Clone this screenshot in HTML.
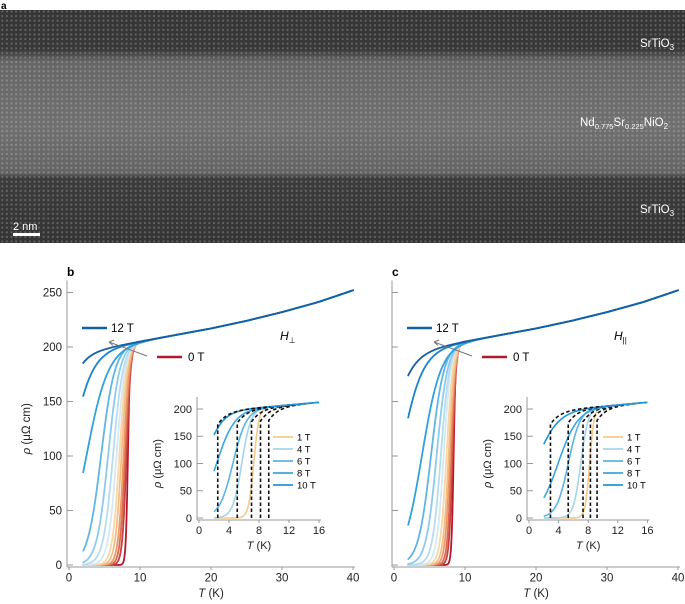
<!DOCTYPE html>
<html><head><meta charset="utf-8"><style>
html,body{margin:0;padding:0;background:#fff;width:685px;height:604px;overflow:hidden}
svg{display:block;font-family:"Liberation Sans",Arial,sans-serif}
</style></head><body>
<svg id="fig" width="685" height="604" viewBox="0 0 685 604">
<defs>
<pattern id="atoms" width="4.6" height="4.6" patternUnits="userSpaceOnUse">
<circle cx="2.3" cy="2.3" r="1.1" fill="#fff" fill-opacity="0.22"/>
</pattern>
<linearGradient id="layers" x1="0" y1="0" x2="0" y2="1">
<stop offset="0" stop-color="#353535"/><stop offset="0.17" stop-color="#383838"/>
<stop offset="0.22" stop-color="#666"/><stop offset="0.5" stop-color="#707070"/>
<stop offset="0.7" stop-color="#646464"/><stop offset="0.72" stop-color="#3c3c3c"/>
<stop offset="1" stop-color="#343434"/>
</linearGradient>
</defs>
<g>
<text x="1" y="9" font-size="10" font-weight="bold">a</text>
<rect x="0" y="10" width="685" height="233" fill="url(#layers)"/>
<rect x="0" y="10" width="685" height="233" fill="url(#atoms)"/>
<text x="640" y="47" font-size="11.5" fill="#fff">SrTiO<tspan font-size="8" dy="3">3</tspan></text>
<text x="580" y="126" font-size="11.5" fill="#fff">Nd<tspan font-size="7.5" dy="3">0.775</tspan><tspan dy="-3">Sr</tspan><tspan font-size="7.5" dy="3">0.225</tspan><tspan dy="-3">NiO</tspan><tspan font-size="8" dy="3">2</tspan></text>
<text x="640" y="213" font-size="11.5" fill="#fff">SrTiO<tspan font-size="8" dy="3">3</tspan></text>
<text x="13" y="230" font-size="11" fill="#fff">2 nm</text>
<rect x="13" y="233" width="27" height="3" fill="#fff"/>
</g>
<g id="plots"></g>
</svg>
<script>
// ---- data ----
const normalT = [2, 5, 10, 15, 20, 25, 30, 35, 40];
const normalRho = [196, 199, 205, 211, 217, 224, 232, 241, 252];
const mainFields = [0,1,2,3,4,5,6,7,8,9,10,11,12];
const mainColors = ["#b2182b","#c8413f","#dc6a4f","#ec9868","#f5bd86","#f6d7a6","#d6e8f2","#b5dcef","#8ccbec","#5fb6e6","#34a0dc","#1a84c8","#1460a8"];
const mainTmidB = [8.3,8.1,7.9,7.7,7.4,7.1,6.7,6.2,5.5,4.5,2.4,0,-2];
const mainWidthB = [0.15,0.3,0.35,0.4,0.45,0.5,0.6,0.7,0.8,0.95,1.5,1.5,1.4];
const mainTmidC = [8.4,8.25,8.1,7.9,7.7,7.4,7.0,6.6,6.0,5.2,3.9,0.8,-1.3];
const mainWidthC = [0.15,0.25,0.3,0.35,0.4,0.45,0.5,0.6,0.75,0.9,1.3,1.5,1.6];
const insetFields = ["1 T","4 T","6 T","8 T","10 T"];
const insetColors = ["#f5c98a","#a6d4ec","#5ab4e5","#3ba5e0","#1e96db"];
const insetTmidB = [7.3,5.7,4.5,2.3,0.5];
const insetWidthB = [0.35,0.6,0.9,1.2,1.2];
const insetTcB = [9.3,8.2,7.0,5.1,2.5];
const insetTmidC = [8.2,7.0,5.3,3.9,0.8];
const insetWidthC = [0.3,0.5,0.8,1.3,1.5];
const insetTcC = [9.2,8.3,7.3,5.3,2.9];
const mainYTicks = [0,50,100,150,200,250];
const mainXTicks = [0,10,20,30,40];
const insetYTicks = [0,50,100,150,200];
const insetXTicks = [0,4,8,12,16];

const NS = "http://www.w3.org/2000/svg";
const root = document.getElementById("plots");
function el(tag, attrs, parent, txt){
  const e = document.createElementNS(NS, tag);
  for (const k in attrs) e.setAttribute(k, attrs[k]);
  if (txt !== undefined) e.textContent = txt;
  (parent || root).appendChild(e);
  return e;
}
function rhoN(T){
  for (let i=0;i<normalT.length-1;i++){
    if (T<=normalT[i+1]){const f=(T-normalT[i])/(normalT[i+1]-normalT[i]);return normalRho[i]+f*(normalRho[i+1]-normalRho[i]);}
  }
  return normalRho[normalRho.length-1];
}
function rho(T,tm,w){ return rhoN(T)/(1+Math.exp(-(T-tm)/w)); }

function axes(g, sx, sy, x0, x1, y0, y1, xt, yt, showY, fs, ylabX, prefix){
  el("line",{x1:sx(x0)-2,y1:sy(y0)+2,x2:sx(x0)-2,y2:sy(y1)-12,stroke:"#999","stroke-width":1},g);
  el("line",{x1:sx(x0)-2,y1:sy(y0)+2,x2:sx(x1)+2,y2:sy(y0)+2,stroke:"#999","stroke-width":1},g);
  xt.forEach(v=>{
    el("line",{x1:sx(v),y1:sy(y0)+2,x2:sx(v),y2:sy(y0)+5,stroke:"#999"},g);
    const t=el("text",{x:sx(v),y:sy(y0)+5+fs,"font-size":fs,"text-anchor":"middle",fill:"#222"},g,String(v));
    
    
  });
  yt.forEach(v=>{
    el("line",{x1:sx(x0)-2,y1:sy(v),x2:sx(x0)+4,y2:sy(v),stroke:"#999"},g);
    if (showY){
      const t=el("text",{x:sx(x0)-7,y:sy(v)+fs*0.36,"font-size":fs,"text-anchor":"end",fill:"#222"},g,String(v));
      
      
    }
  });
  const xl=el("text",{x:(sx(x0)+sx(x1))/2,y:sy(y0)+5+fs*2.35,"font-size":fs,"text-anchor":"middle",fill:"#222"},g);
  xl.innerHTML='<tspan font-style="italic">T</tspan> (K)';
  
  
  if (showY){
    const cy=(sy(y0)+sy(y1))/2;
    const yl=el("text",{x:ylabX,y:cy,"font-size":fs,"text-anchor":"middle",fill:"#222",transform:`rotate(-90 ${ylabX} ${cy})`},g);
    yl.innerHTML='<tspan font-style="italic">ρ</tspan> (μΩ cm)';
    
    
  }
}
function curvePath(sx,sy,tm,w,t0,t1){
  let d="";
  for (let T=t0;T<=t1+1e-9;T+=0.05){ d+=(d?"L":"M")+sx(T).toFixed(2)+","+sy(rho(T,tm,w)).toFixed(2); }
  return d;
}

function panel(cfg){
  const g=el("g",{});
  
  
  const sx=T=>cfg.mx0+T*cfg.mxs, sy=r=>cfg.my0-r*cfg.mys;
  const lab=el("text",{x:cfg.mx0-2,y:276,"font-size":12,"font-weight":"bold"},g,cfg.name);
  
  
  axes(g,sx,sy,0,40,0,250,mainXTicks,mainYTicks,cfg.showY,11.5,30,'main-'+cfg.name+'-');
  mainFields.forEach((f,i)=>{
    const p=el("path",{d:curvePath(sx,sy,cfg.tmid[i],cfg.width[i],2,40),fill:"none",stroke:mainColors[i],"stroke-width":1.8,"stroke-linecap":"round"},g);
    
    
  });
  const lx=cfg.mx0+13;
  el("line",{x1:lx,y1:328,x2:lx+25,y2:328,stroke:"#1460a8","stroke-width":2.5},g);
  const t12=el("text",{x:lx+29,y:332,"font-size":11.5},g,"12 T");
  
  
  el("line",{x1:lx+cfg.zeroDx,y1:357,x2:lx+cfg.zeroDx+25,y2:357,stroke:"#b2182b","stroke-width":2.5},g);
  const t0=el("text",{x:lx+cfg.zeroDx+31,y:361,"font-size":11.5},g,"0 T");
  
  
  const ax=el("path",{d:`M${lx+cfg.zeroDx-10},356 L${lx+27},342 M${lx+27},342 l5,-2 M${lx+27},342 l4,3.5`,stroke:"#777","stroke-width":1,fill:"none"},g);
  
  
  const h=el("text",{x:cfg.hx,y:340,"font-size":12,"font-style":"italic"},g);
  h.innerHTML='H<tspan font-size="8" font-style="normal" dy="3">'+cfg.hsub+'</tspan>';
  
  

  const ig=el("g",{},g);
  
  
  const ix=T=>cfg.ix0+T*cfg.ixs, iy=r=>518-r*0.545;
  axes(ig,ix,iy,0,16,0,200,insetXTicks,insetYTicks,true,11,cfg.ix0-38,'inset-'+cfg.name+'-');
  insetFields.forEach((f,i)=>{
    const p=el("path",{d:curvePath(ix,iy,cfg.itmid[i],cfg.iwidth[i],2,16),fill:"none",stroke:insetColors[i],"stroke-width":1.6},ig);
    
    
    const tc=cfg.itc[i];
    let d=`M${ix(tc).toFixed(2)},${iy(0).toFixed(2)}L${ix(tc).toFixed(2)},${iy(rhoN(tc)-25).toFixed(2)}`;
    for (let T=tc;T<=Math.min(tc+7,15);T+=0.1) d+=`L${ix(T).toFixed(2)},${iy(rhoN(T)-25*Math.exp(-(T-tc)/1.3)).toFixed(2)}`;
    const fp=el("path",{d:d,fill:"none",stroke:"#111","stroke-width":1.6,"stroke-dasharray":"3.5,2.5"},ig);
    
    
    const ly=437+i*12;
    el("line",{x1:cfg.ix0+74,y1:ly,x2:cfg.ix0+94,y2:ly,stroke:insetColors[i],"stroke-width":1.8},ig);
    const lt=el("text",{x:cfg.ix0+98,y:ly+3.5,"font-size":9.5},ig,f);
    
    
  });
}
panel({name:"b",mx0:69,mxs:7.1,my0:565,mys:1.09,showY:true,tmid:mainTmidB,width:mainWidthB,zeroDx:75,hx:280,hsub:"⊥",
  ix0:199,ixs:7.5,itmid:insetTmidB,iwidth:insetWidthB,itc:insetTcB});
panel({name:"c",mx0:394,mxs:7.1,my0:565,mys:1.09,showY:false,tmid:mainTmidC,width:mainWidthC,zeroDx:75,hx:614,hsub:"||",
  ix0:529,ixs:7.4,itmid:insetTmidC,iwidth:insetWidthC,itc:insetTcC});
</script>
</body></html>
